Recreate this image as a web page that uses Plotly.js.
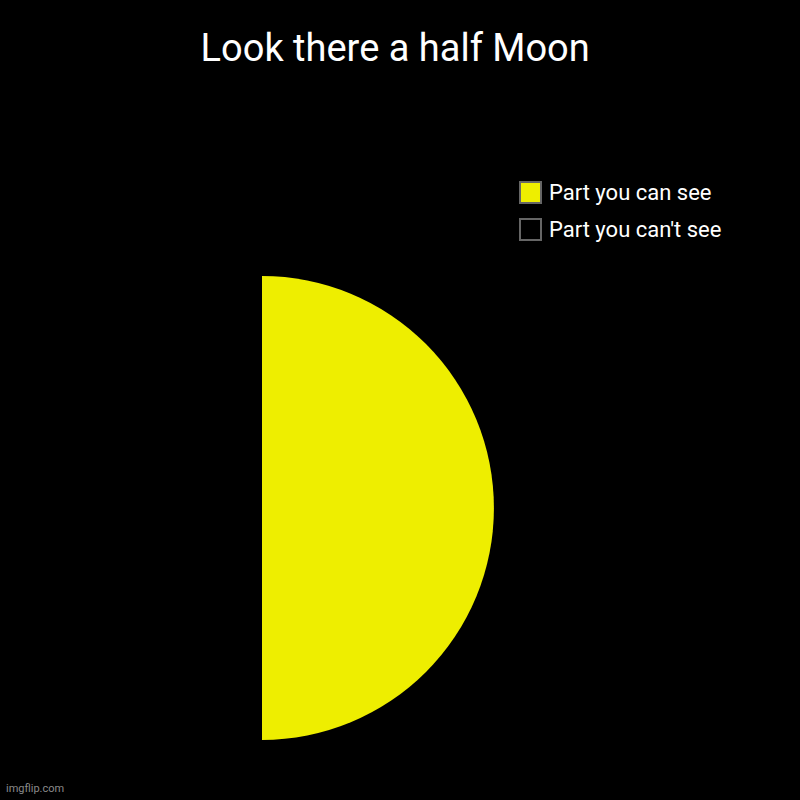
<!DOCTYPE html>
<html>
<head>
<meta charset="utf-8">
<script src="https://cdn.plot.ly/plotly-3.0.1.min.js"></script>
<style>
  html, body { margin: 0; padding: 0; background: #000; }
  #chart { width: 800px; height: 800px; }
</style>
</head>
<body>
<div id="chart"></div>
<script>
// Half moon pie: one visible slice, one black slice
const labels = ['Part you can see', "Part you can't see"];
const values = [50, 50];
const colors = ['#eeee00', '#000000'];

const W = 800, H = 800;
const px = v => v / W;
const py = v => 1 - v / H;

const traces = [{
    type: 'pie',
    labels: labels,
    values: values,
    sort: false,
    direction: 'clockwise',
    rotation: 0,
    textinfo: 'none',
    hoverinfo: 'label+percent',
    marker: { colors: colors, line: { width: 0 } },
    domain: { x: [0.0375, 0.6175], y: [0.075, 0.655] },
    showlegend: false
}];

// legend drawn by hand: the built-in swatch is too small
const legTop = 182, legStep = 37, sw = 21, legLeft = 520;
const shapes = [];
const annotations = [];
labels.forEach(function (lab, i) {
    const y0 = legTop + i * legStep;
    shapes.push({
        type: 'rect', xref: 'paper', yref: 'paper',
        x0: px(legLeft), x1: px(legLeft + sw),
        y0: py(y0), y1: py(y0 + sw),
        fillcolor: colors[i],
        line: { color: '#666666', width: 2 }
    });
    annotations.push({
        xref: 'paper', yref: 'paper',
        x: px(legLeft + sw + 6), y: py(y0 + sw / 2),
        xanchor: 'left', yanchor: 'middle',
        text: lab, showarrow: false,
        font: { size: 22, color: '#ffffff' }
    });
});

annotations.push({
    xref: 'paper', yref: 'paper', x: 0.005, y: 0.004,
    xanchor: 'left', yanchor: 'bottom',
    text: 'imgflip.com', showarrow: false,
    font: { size: 11, color: '#8a8a8a' }
});

const layout = {
    width: W,
    height: H,
    margin: { t: 0, b: 0, l: 0, r: 0 },
    paper_bgcolor: '#000',
    plot_bgcolor: '#000',
    font: { family: 'Roboto, sans-serif', color: '#ffffff' },
    title: {
        text: 'Look there a half Moon',
        font: { size: 38, color: '#ffffff', family: 'Roboto, sans-serif' },
        x: 0.494, xanchor: 'center',
        y: 0.94, yanchor: 'middle'
    },
    showlegend: false,
    shapes: shapes,
    annotations: annotations
};

Plotly.newPlot('chart', traces, layout, { displayModeBar: false, staticPlot: true });
</script>
</body>
</html>
